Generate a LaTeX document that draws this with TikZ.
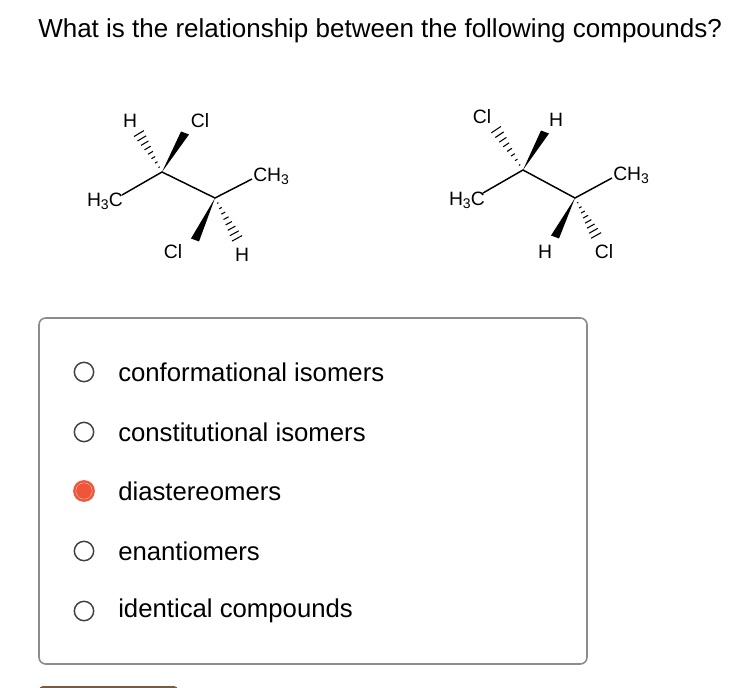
\documentclass[tikz,border=0pt]{standalone}
\usepackage{fontspec}
\usetikzlibrary{calc}
\setmainfont{Liberation Sans}
\definecolor{sel}{HTML}{F0553A}
\definecolor{brownbar}{HTML}{7A5A3F}
\newcommand{\sbs}[1]{\raisebox{-0.3ex}{\fontsize{10.5}{10.5}\selectfont #1}}
\begin{document}
\begin{tikzpicture}[x=0.75pt,y=-0.75pt,
  bond/.style={line width=1.1pt},
  lab/.style={inner sep=0pt,font=\fontsize{14.5}{14.5}\selectfont},
  opt/.style={anchor=west,inner sep=0pt,font=\fontsize{19.3}{19.3}\selectfont},
  radio/.style={circle,draw=black!75,line width=1.1pt,minimum size=14.5pt,inner sep=0pt}]
\useasboundingbox (0,0) rectangle (744,688);
\fill[white] (0,0) rectangle (744,688);
\node[anchor=west,inner sep=0pt,font=\fontsize{19.5}{19.5}\selectfont] (q) at (38,31) {What is the relationship between the following compounds?};
% molecule 1
\coordinate (a1) at (162,172); \coordinate (a2) at (215,198);
\coordinate (a3) at (122,195); \coordinate (a4) at (252,179);
\coordinate (a5) at (185,133); \coordinate (a6) at (138,132);
\coordinate (a7) at (195,240); \coordinate (a8) at (238,240);
\draw[bond] (a3)--(a1)--(a2)--(a4);
\fill (a1)--($(a5)+(4,1.5)$)--($(a5)+(-4,-1.5)$)--cycle;
\fill (a2)--($(a7)+(4,1.5)$)--($(a7)+(-4,-1.5)$)--cycle;
\foreach \t in {0.12,0.24,...,1.0}{
  \draw[line width=0.8pt] ($(a1)!\t!(a6)!{\t*4.5pt}!90:(a6)$) -- ($(a1)!\t!(a6)!{\t*4.5pt}!-90:(a6)$);
  \draw[line width=0.8pt] ($(a2)!\t!(a8)!{\t*4.5pt}!90:(a8)$) -- ($(a2)!\t!(a8)!{\t*4.5pt}!-90:(a8)$);}
\node[lab] (h1) at (130,121) {H};
\node[lab] (c1) at (200,121) {Cl};
\node[lab,anchor=west] (m1) at (253,176) {CH\sbs{3}};
\node[lab,anchor=east] (m2) at (123,201) {H\sbs{3}C};
\node[lab] (c2) at (173,252) {Cl};
\node[lab] (h2) at (242,255) {H};
% molecule 2
\coordinate (b1) at (523,170); \coordinate (b2) at (575,198);
\coordinate (b3) at (483,193); \coordinate (b4) at (612,178);
\coordinate (b5) at (495,128); \coordinate (b6) at (545,132);
\coordinate (b7) at (555,237); \coordinate (b8) at (597,237);
\draw[bond] (b3)--(b1)--(b2)--(b4);
\fill (b1)--($(b6)+(4,1.5)$)--($(b6)+(-4,-1.5)$)--cycle;
\fill (b2)--($(b7)+(4,1.5)$)--($(b7)+(-4,-1.5)$)--cycle;
\foreach \t in {0.12,0.24,...,1.0}{
  \draw[line width=0.8pt] ($(b1)!\t!(b5)!{\t*4.5pt}!90:(b5)$) -- ($(b1)!\t!(b5)!{\t*4.5pt}!-90:(b5)$);
  \draw[line width=0.8pt] ($(b2)!\t!(b8)!{\t*4.5pt}!90:(b8)$) -- ($(b2)!\t!(b8)!{\t*4.5pt}!-90:(b8)$);}
\node[lab] (c3) at (482,117) {Cl};
\node[lab] (h3) at (556,120) {H};
\node[lab,anchor=west] (m3) at (613,175) {CH\sbs{3}};
\node[lab,anchor=east] (m4) at (485,200) {H\sbs{3}C};
\node[lab] (h4) at (545,252) {H};
\node[lab] (c4) at (604,252) {Cl};
% answer box
\draw[black!45,line width=1.2pt,rounded corners=5pt] (39,318) rectangle (587,664);
\node[radio] (r1) at (84,372) {};
\node[radio] (r2) at (84,432) {};
\node[radio,draw=sel,fill=white,line width=1.8pt] (r3) at (84,491) {};
\fill[sel] (r3) circle (8);
\node[radio] (r4) at (84,551) {};
\node[radio] (r5) at (84,611) {};
\node[opt] (t1) at (118,372) {conformational isomers};
\node[opt] (t2) at (118,432) {constitutional isomers};
\node[opt] (t3) at (118,491) {diastereomers};
\node[opt] (t4) at (118,551) {enantiomers};
\node[opt] (t5) at (118,611) {identical compounds};
\fill[brownbar,rounded corners=3pt] (39,686) rectangle (178,694);
\end{tikzpicture}
\end{document}
